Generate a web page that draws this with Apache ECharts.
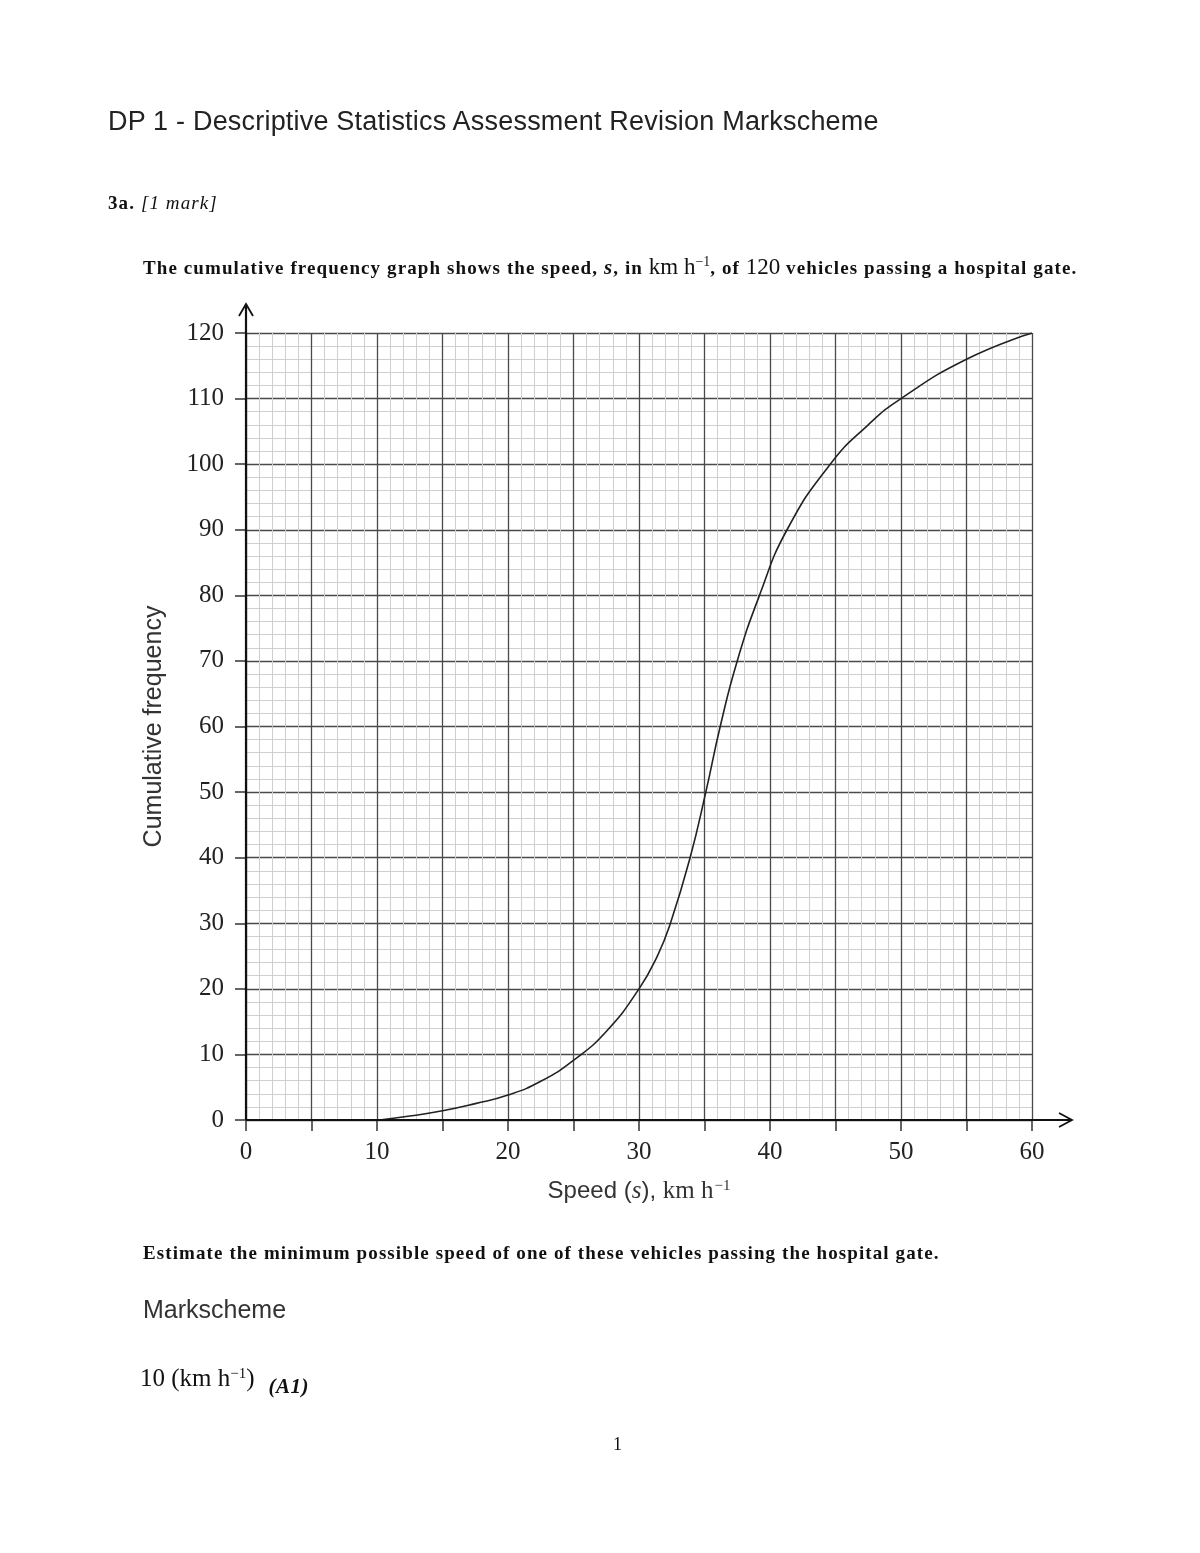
<!DOCTYPE html>
<html>
<head>
<meta charset="utf-8">
<script src="https://cdn.jsdelivr.net/npm/echarts@6/dist/echarts.min.js"></script>
<style>
  html, body { margin: 0; padding: 0; background: #fff; }
  #page { position: relative; width: 1200px; height: 1553px; overflow: hidden; }
  #cf-chart { position: absolute; left: 0; top: 0; width: 1200px; height: 1553px; }
  .t { position: absolute; line-height: 1; white-space: nowrap; color: #111; }
  .sans { font-family: "Liberation Sans", Arial, sans-serif; }
  .serif { font-family: "Liberation Serif", "Times New Roman", serif; }
  .wide { letter-spacing: 1.1px; }
  sup { font-size: 60%; vertical-align: 0.55em; line-height: 0; }
</style>
</head>
<body>
<div id="page">
  <div id="cf-chart"></div>
  <div class="t sans" style="left:108px; top:108px; font-size:27px; letter-spacing:0.2px; color:#222;">DP 1 - Descriptive Statistics Assessment Revision Markscheme</div>
  <div class="t serif wide" style="left:108px; top:193px; font-size:19px;"><b>3a.</b> <i>[1 mark]</i></div>
  <div class="t serif wide" style="left:143px; top:255px; font-size:19px; font-weight:bold;">The cumulative frequency graph shows the speed, <i style="font-size:21px">s</i>, in <span style="font-weight:normal;font-size:23px;letter-spacing:0">km h<sup>−1</sup></span>, of <span style="font-weight:normal;font-size:23px;letter-spacing:0">120</span> vehicles passing a hospital gate.</div>
  <div class="t serif wide" style="left:143px; top:1243px; font-size:19px; font-weight:bold;">Estimate the minimum possible speed of one of these vehicles passing the hospital gate.</div>
  <div class="t sans" style="left:143px; top:1297px; font-size:25px; color:#333;">Markscheme</div>
  <div class="t serif" style="left:140px; top:1365px; font-size:25px;">10 (km h<sup>−1</sup>)<b><i style="font-size:21px; position:relative; top:7px; margin-left:14px; letter-spacing:0.5px;">(A1)</i></b></div>
  <div class="t serif" style="left:613px; top:1435px; font-size:18px;">1</div>
</div>
<script>
// readings from the curve
var speeds = [10.2, 12.5, 15, 17.5, 20, 22.5, 25, 27.5, 30, 31.4, 32.4, 33.9, 35.1, 36.2, 37.5, 39.2, 41.3, 44.6, 47.5, 50, 55, 60];
var cumFreq = [0, 0.6, 1.4, 2.5, 3.8, 5.9, 9.1, 13.5, 20, 25, 30, 40, 50, 60, 70, 80, 90, 100, 106, 110, 116, 120];

var xMin = 0, xMax = 60, xStep = 5;
var yMin = 0, yMax = 120, yStep = 10;

var points = speeds.map(function (s, i) { return [s, cumFreq[i]]; });

var myChart = echarts.init(document.getElementById('cf-chart'));

var labelFont = { fontFamily: 'Liberation Serif', fontSize: 25, color: '#222' };

myChart.setOption({
  animation: false,
  grid: { left: 246, top: 333, width: 786, height: 787, containLabel: false },
  xAxis: {
    type: 'value',
    min: xMin, max: xMax, interval: xStep,
    name: '{a|Speed (}{i|s}{a|), }{b|km h}{sup|−1}',
    nameLocation: 'middle',
    nameGap: 59,
    nameTextStyle: {
      rich: {
        a: { fontFamily: 'Liberation Sans', fontSize: 24, color: '#333' },
        i: { fontFamily: 'Liberation Serif', fontStyle: 'italic', fontSize: 25, color: '#333' },
        b: { fontFamily: 'Liberation Serif', fontSize: 25, color: '#333' },
        sup: { fontFamily: 'Liberation Serif', fontSize: 15, color: '#333', verticalAlign: 'top', padding: [0, 0, 10, 1] }
      }
    },
    axisLine: { show: false },
    axisTick: { show: true, inside: false, length: 11, lineStyle: { color: '#333', width: 1.5 } },
    axisLabel: Object.assign({
      margin: 20,
      formatter: function (v) { return v % 10 === 0 ? String(v) : ''; }
    }, labelFont),
    splitLine: { show: true, lineStyle: { color: '#4a4a4a', width: 1.3 } },
    minorTick: { show: false, splitNumber: 5 },
    minorSplitLine: { show: true, lineStyle: { color: '#cfcfcf', width: 1 } }
  },
  yAxis: {
    type: 'value',
    min: yMin, max: yMax, interval: yStep,
    name: 'Cumulative frequency',
    nameLocation: 'middle',
    nameGap: 79,
    nameRotate: 90,
    nameTextStyle: { fontFamily: 'Liberation Sans', fontSize: 25, color: '#333' },
    axisLine: { show: false },
    axisTick: { show: true, inside: false, length: 11, lineStyle: { color: '#333', width: 1.5 } },
    axisLabel: Object.assign({ margin: 22 }, labelFont),
    splitLine: { show: true, lineStyle: { color: '#4a4a4a', width: 1.3 } },
    minorTick: { show: false, splitNumber: 5 },
    minorSplitLine: { show: true, lineStyle: { color: '#cfcfcf', width: 1 } }
  },
  series: [{
    type: 'line',
    data: points,
    smooth: 0.5,
    showSymbol: false,
    lineStyle: { color: '#222', width: 1.6 },
    z: 5
  }]
});

// axis lines with open arrow heads, positioned from the axis scales
var o = myChart.convertToPixel({ gridIndex: 0 }, [xMin, yMin]);
var t = myChart.convertToPixel({ gridIndex: 0 }, [xMin, yMax]);
var r = myChart.convertToPixel({ gridIndex: 0 }, [xMax, yMin]);
var yTip = t[1] - 29, xTip = r[0] + 40;
var axisStyle = { stroke: '#111', lineWidth: 2.2, fill: null };
myChart.setOption({
  graphic: [
    { type: 'polyline', z: 10, shape: { points: [[o[0], o[1]], [o[0], yTip]] }, style: axisStyle },
    { type: 'polyline', z: 10, shape: { points: [[o[0] - 7, yTip + 12], [o[0], yTip], [o[0] + 7, yTip + 12]] }, style: { stroke: '#111', lineWidth: 1.8, fill: null } },
    { type: 'polyline', z: 10, shape: { points: [[o[0], o[1]], [xTip, o[1]]] }, style: axisStyle },
    { type: 'polyline', z: 10, shape: { points: [[xTip - 13, o[1] - 7], [xTip, o[1]], [xTip - 13, o[1] + 7]] }, style: { stroke: '#111', lineWidth: 1.8, fill: null } }
  ]
});
</script>
</body>
</html>
